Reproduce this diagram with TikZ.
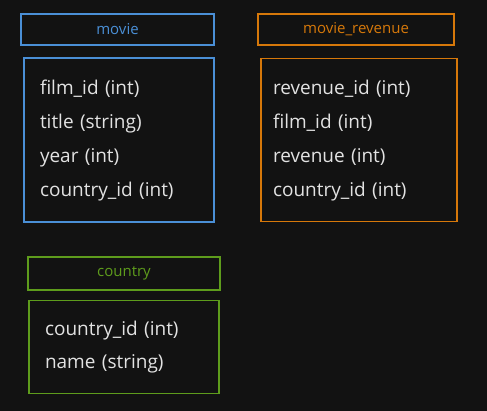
\documentclass[tikz,border=0pt]{standalone}
\usepackage{fontspec}
\setmainfont{Open Sans}
\usepackage{tikz}
\usetikzlibrary{positioning}

\definecolor{bgdark}{HTML}{121212}
\definecolor{moviecol}{HTML}{4A8FD6}
\definecolor{revenuecol}{HTML}{D6780A}
\definecolor{countrycol}{HTML}{5E9C1C}
\definecolor{fieldtext}{HTML}{E2E2E2}

\begin{document}
\begin{tikzpicture}[x=1pt, y=-1pt, header/.style={rectangle, draw=#1, text=#1, line width=1.6pt, minimum width=193pt, minimum height=31pt, font=\fontsize{15}{16}\selectfont}, table/.style={rectangle, draw=#1, text=fieldtext, line width=1.6pt, minimum width=190pt, text width=158pt, inner xsep=16pt, inner ysep=0pt, align=left, font=\fontsize{19}{34}\selectfont}]

    % Background
    \fill[bgdark] (0,0) rectangle (487,411);

    % Nodes
    \node[header=moviecol]   (movie)        at (117.5,29.5)                           {movie};
    \node[table=moviecol, minimum height=164pt]   (moviefields)   [below=11.5pt of movie, xshift=1.5pt]     {film\_id (int)\\title (string)\\year (int)\\country\_id (int)};
    \node[header=revenuecol, minimum width=196pt] (revenue)   at (356,29.5)    {movie\_revenue};
    \node[table=revenuecol, minimum width=196pt, inner xsep=12pt, text width=172pt, minimum height=163pt] (revenuefields) [below=12pt of revenue, xshift=3pt] {revenue\_id (int)\\film\_id (int)\\revenue (int)\\country\_id (int)};
    \node[header=countrycol, minimum width=192pt, minimum height=33pt] (country) at (124,273.5) {country};
    \node[table=countrycol, minimum height=93pt, font=\fontsize{19}{33}\selectfont] (countryfields) [below=9pt of country] {country\_id (int)\\name (string)};

\end{tikzpicture}
\end{document}
